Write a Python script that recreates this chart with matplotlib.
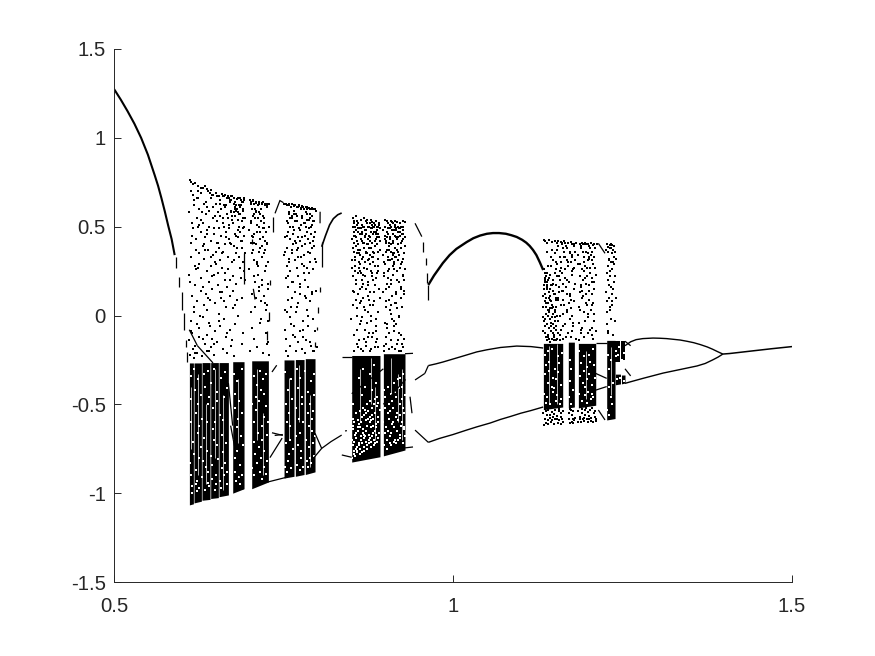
import matplotlib
matplotlib.use('Agg')
import matplotlib.pyplot as plt

plt.rcParams['font.family'] = ['Liberation Sans', 'DejaVu Sans']

# %% continuous branches
main_x = [0.5, 0.51, 0.52, 0.53, 0.54, 0.55, 0.56, 0.565, 0.57, 0.575, 0.58, 0.585, 0.5895]
main_y = [1.275, 1.215, 1.15, 1.08, 1.0, 0.905, 0.79, 0.73, 0.66, 0.585, 0.505, 0.43, 0.34]
hump_x = [0.9636, 0.972, 0.985, 0.995, 1.005, 1.02, 1.03, 1.04, 1.05, 1.059, 1.068, 1.078, 1.086,
          1.094, 1.102, 1.108, 1.113, 1.118, 1.123, 1.128, 1.133]
hump_y = [0.172, 0.225, 0.295, 0.34, 0.375, 0.413, 0.435, 0.45, 0.46, 0.464, 0.464, 0.46, 0.452,
          0.442, 0.426, 0.41, 0.392, 0.369, 0.34, 0.3, 0.256]
top_mid_x = [0.9636, 0.975, 0.985, 1.0, 1.015, 1.035, 1.05, 1.07, 1.094, 1.115, 1.133]
top_mid_y = [-0.282, -0.272, -0.262, -0.245, -0.228, -0.205, -0.193, -0.18, -0.172, -0.175, -0.183]
low_mid_x = [0.9636, 0.98, 1.0, 1.02, 1.035, 1.055, 1.07, 1.085, 1.1, 1.115, 1.133]
low_mid_y = [-0.714, -0.692, -0.67, -0.645, -0.627, -0.605, -0.585, -0.568, -0.55, -0.535, -0.515]
fork_up_x = [1.2537, 1.262, 1.27, 1.28, 1.295, 1.305, 1.315, 1.325, 1.335, 1.345, 1.355, 1.365,
             1.375, 1.383, 1.39, 1.398]
fork_up_y = [-0.17, -0.148, -0.136, -0.13, -0.127, -0.128, -0.13, -0.134, -0.138, -0.145, -0.153,
             -0.164, -0.177, -0.19, -0.203, -0.217]
fork_low_x = [1.2537, 1.261, 1.28, 1.3, 1.31, 1.335, 1.36, 1.372, 1.383, 1.391, 1.398]
fork_low_y = [-0.382, -0.374, -0.354, -0.334, -0.324, -0.304, -0.284, -0.27, -0.25, -0.234, -0.217]
tail_x = [1.398, 1.408, 1.44, 1.47, 1.5]
tail_y = [-0.217, -0.214, -0.2, -0.187, -0.175]
arc_x = [0.8063, 0.812, 0.818, 0.8235, 0.83, 0.8358]
arc_y = [0.387, 0.45, 0.51, 0.545, 0.567, 0.577]
bridge_x = [0.794, 0.8063, 0.82, 0.8358]
bridge_y = [-0.804, -0.748, -0.71, -0.673]

# short pieces between and inside the bands
piece_x0 = [0.5915, 0.596, 0.5999, 0.6033, 0.6062, 0.6082,
            0.611, 0.623, 0.735, 0.7375, 0.745, 0.733, 0.733, 0.737, 0.73, 0.727,
            0.804, 0.8063, 0.8039, 0.8015, 0.799, 0.7965, 0.7965,
            0.8408, 0.836, 0.836, 0.9292, 0.9292,
            0.944, 0.956, 0.9597, 0.9612, 0.9636,
            0.9366, 0.944, 0.9585, 0.944,
            1.2144, 1.2105, 1.2105, 1.2105, 1.2144,
            0.6918, 0.704, 0.7295, 0.7285, 0.7255, 0.7055, 0.6687, 0.672,
            1.2537, 1.2537, 0.8506, 0.8973]
piece_x1 = [0.5915, 0.596, 0.5999, 0.6033, 0.6062, 0.6082,
            0.623, 0.646, 0.735, 0.745, 0.75, 0.74, 0.749, 0.749, 0.748, 0.755,
            0.8039, 0.8063, 0.8039, 0.8015, 0.799, 0.7965, 0.8063,
            0.8435, 0.8506, 0.8506, 0.941, 0.941,
            0.954, 0.956, 0.9597, 0.9612, 0.9636,
            0.9395, 0.9585, 0.9636, 0.9636,
            1.2242, 1.2267, 1.2267, 1.2267, 1.2242,
            0.6918, 0.704, 0.7295, 0.7285, 0.7255, 0.708, 0.675, 0.69,
            1.262, 1.262, 0.8973, 0.93]
piece_y0 = [0.331, 0.219, 0.134, 0.012, -0.138, -0.204,
            -0.08, -0.17, 0.556, 0.575, 0.646, -0.318, -0.66, -0.675, -0.8, -0.937,
            0.584, 0.416, 0.162, 0.05, -0.063, -0.147, -0.663,
            -0.65, -0.232, -0.785, -0.215, -0.745,
            0.519, 0.415, 0.322, 0.237, 0.172,
            -0.457, -0.363, -0.326, -0.645,
            0.406, -0.157, -0.326, -0.42, -0.532,
            0.35, 0.43, 0.2, 0.02, -0.09, 0.15, -0.38, -0.62,
            -0.145, -0.3, -0.44, -0.5]
piece_y1 = [0.265, 0.162, 0.031, -0.082, -0.175, -0.26,
            -0.17, -0.267, 0.47, 0.65, 0.635, -0.28, -0.675, -0.67, -0.69, -0.91,
            0.519, 0.275, 0.134, 0.012, -0.082, -0.175, -0.748,
            -0.648, -0.232, -0.798, -0.213, -0.74,
            0.444, 0.359, 0.284, 0.181, 0.087,
            -0.55, -0.326, -0.282, -0.714,
            0.35, -0.157, -0.354, -0.4, -0.588,
            0.18, 0.4, 0.17, -0.03, -0.14, 0.09, -0.62, -0.98,
            -0.17, -0.34, -0.3, -0.36]

# %% dark blocks of the chaotic bands
block_left = [0.6112, 0.618, 0.6298, 0.6426, 0.6549, 0.6751, 0.7031, 0.7508, 0.7675, 0.7822,
              0.8506, 0.8973,
              1.1333, 1.1701, 1.1849, 1.2267, 1.2395, 1.2485, 1.2395, 1.2485]
block_right = [0.6171, 0.6289, 0.6416, 0.6539, 0.6687, 0.6918, 0.7277, 0.7655, 0.7803, 0.7965,
               0.8923, 0.9292,
               1.1618, 1.179, 1.2105, 1.239, 1.247, 1.2537, 1.247, 1.2537]
block_top = [-0.267, -0.267, -0.265, -0.265, -0.265, -0.26, -0.255, -0.25, -0.248, -0.243,
             -0.225, -0.215,
             -0.157, -0.15, -0.157, -0.14, -0.145, -0.145, -0.33, -0.335]
block_low_left = [-1.066, -1.055, -1.04, -1.03, -1.02, -1.0, -0.975, -0.915, -0.905, -0.895,
                  -0.825, -0.79,
                  -0.53, -0.52, -0.52, -0.588, -0.26, -0.25, -0.39, -0.385]
block_low_right = [-1.06, -1.045, -1.035, -1.025, -1.01, -0.975, -0.937, -0.905, -0.895, -0.88,
                   -0.795, -0.757,
                   -0.515, -0.515, -0.505, -0.58, -0.26, -0.25, -0.385, -0.38]

# %% sparse columns above the dark blocks
sparse1_x = [0.612, 0.615, 0.618, 0.621, 0.624, 0.627, 0.63, 0.633, 0.636, 0.639, 0.642, 0.645,
             0.648, 0.651, 0.654, 0.657, 0.66, 0.663, 0.666, 0.669, 0.672, 0.675, 0.678, 0.681,
             0.684, 0.687, 0.69, 0.692, 0.701, 0.704, 0.707, 0.71, 0.713, 0.716, 0.719, 0.722,
             0.725, 0.727, 0.752, 0.755, 0.758, 0.761, 0.764, 0.767, 0.77, 0.773, 0.776, 0.779,
             0.782, 0.785, 0.788, 0.791, 0.794, 0.797]
sparse1_y = [[0.76, 0.41, 0.23, -0.03, -0.14, -0.22, 0.58],
             [0.75, 0.68, 0.33, 0.11, -0.09, -0.19, 0.52],
             [0.74, 0.62, 0.49, 0.17, 0.02, -0.24, 0.28],
             [0.745, 0.55, 0.43, 0.26, -0.05, -0.17, 0.66],
             [0.73, 0.66, 0.35, 0.08, -0.12, -0.21, 0.5],
             [0.72, 0.6, 0.47, 0.29, 0.14, -0.07, 0.54],
             [0.715, 0.69, 0.39, 0.21, -0.01, -0.23, 0.58],
             [0.73, 0.52, 0.44, 0.32, 0.06, -0.16, 0.63],
             [0.71, 0.64, 0.57, 0.25, 0.12, -0.11, 0.37],
             [0.7, 0.59, 0.37, 0.19, 0.03, -0.2, 0.48],
             [0.69, 0.66, 0.5, 0.28, -0.04, -0.18, 0.09],
             [0.705, 0.61, 0.42, 0.34, 0.15, -0.13, 0.55],
             [0.68, 0.56, 0.46, 0.23, 0.07, -0.22, 0.3],
             [0.69, 0.63, 0.53, 0.36, 0.17, -0.09, 0.41],
             [0.67, 0.58, 0.31, 0.24, 0.01, -0.15, 0.49],
             [0.685, 0.65, 0.45, 0.38, 0.1, -0.06, 0.56],
             [0.67, 0.6, 0.52, 0.27, 0.13, -0.19, 0.35],
             [0.68, 0.62, 0.4, 0.2, -0.02, -0.12, 0.5],
             [0.66, 0.57, 0.47, 0.33, 0.05, -0.21, 0.61],
             [0.675, 0.64, 0.55, 0.43, 0.16, -0.08, 0.26],
             [0.65, 0.59, 0.51, 0.3, 0.11, -0.17, 0.4],
             [0.67, 0.63, 0.54, 0.22, 0.04, -0.14, 0.58],
             [0.66, 0.6, 0.56, 0.39, 0.18, -0.23, 0.46],
             [0.655, 0.62, 0.48, 0.35, 0.09, -0.05, 0.54],
             [0.66, 0.58, 0.5, 0.44, 0.27, 0.0, 0.62],
             [0.65, 0.61, 0.53, 0.42, 0.21, -0.16, 0.57],
             [0.66, 0.64, 0.6, 0.5, 0.38, 0.25, 0.1],
             [0.65, 0.55, 0.45, 0.35, 0.3, 0.2, -0.1],
             [0.65, 0.63, 0.48, 0.41, 0.26, 0.02, -0.2],
             [0.64, 0.56, 0.52, 0.37, 0.12, -0.07, 0.44],
             [0.645, 0.6, 0.46, 0.31, 0.19, -0.13, 0.55],
             [0.635, 0.58, 0.51, 0.4, 0.23, 0.05, 0.29],
             [0.64, 0.62, 0.43, 0.28, 0.14, -0.18, 0.5],
             [0.63, 0.57, 0.53, 0.36, 0.08, -0.04, 0.47],
             [0.64, 0.6, 0.49, 0.33, 0.17, -0.21, 0.39],
             [0.63, 0.55, 0.42, 0.25, 0.11, -0.1, 0.52],
             [0.625, 0.61, 0.47, 0.3, 0.03, -0.16, 0.37],
             [0.62, 0.5, 0.4, 0.15, 0.06, -0.22, -0.03],
             [0.625, 0.44, 0.34, 0.21, 0.03, -0.08, -0.2],
             [0.63, 0.52, 0.38, 0.28, 0.09, -0.13, 0.47],
             [0.62, 0.57, 0.43, 0.16, -0.01, -0.23, 0.32],
             [0.63, 0.5, 0.35, 0.25, 0.05, -0.17, 0.56],
             [0.615, 0.55, 0.46, 0.19, -0.06, -0.11, 0.4],
             [0.62, 0.59, 0.41, 0.31, 0.13, -0.2, 0.48],
             [0.61, 0.53, 0.37, 0.22, 0.02, -0.15, 0.57],
             [0.62, 0.48, 0.33, 0.12, 0.07, -0.09, 0.44],
             [0.605, 0.56, 0.42, 0.29, 0.18, -0.19, 0.51],
             [0.615, 0.52, 0.39, 0.24, -0.03, -0.12, 0.34],
             [0.6, 0.58, 0.45, 0.2, 0.1, -0.21, 0.5],
             [0.61, 0.54, 0.36, 0.27, 0.0, -0.14, 0.43],
             [0.6, 0.49, 0.41, 0.16, 0.08, -0.06, 0.57],
             [0.605, 0.55, 0.38, 0.3, 0.13, -0.17, 0.46],
             [0.6, 0.51, 0.44, 0.26, -0.02, -0.2, 0.53],
             [0.59, 0.47, 0.32, 0.14, -0.09, -0.18, 0.39]]

# second pass over the first band, denser toward the top and the right
extra1_x = [0.6135, 0.6195, 0.6255, 0.6315, 0.6375, 0.6435, 0.6495, 0.6555, 0.6615, 0.6645,
            0.6705, 0.6735, 0.6765, 0.6795, 0.6825, 0.6855, 0.6885, 0.6905, 0.7025, 0.7055,
            0.7085, 0.7115, 0.7145, 0.7175, 0.7205, 0.7235, 0.7265, 0.7535, 0.7565, 0.7595,
            0.7625, 0.7655, 0.7685, 0.7715, 0.7745, 0.7775, 0.7805, 0.7835, 0.7865, 0.7895,
            0.7925, 0.7955]
extra1_y = [[0.7, 0.45, 0.19, -0.1], [0.65, 0.37, 0.05, -0.21], [0.7, 0.51, 0.27, 0.0],
            [0.72, 0.4, 0.16, -0.13], [0.61, 0.46, 0.1, -0.2], [0.68, 0.33, 0.22, -0.06],
            [0.67, 0.49, 0.29, -0.16], [0.63, 0.41, 0.13, -0.03], [0.67, 0.55, 0.36, 0.08],
            [0.62, 0.44, 0.24, -0.1], [0.66, 0.58, 0.49, 0.2], [0.65, 0.56, 0.41, 0.14],
            [0.67, 0.61, 0.52, 0.31], [0.64, 0.59, 0.45, 0.06], [0.66, 0.6, 0.5, 0.38],
            [0.65, 0.57, 0.47, 0.33], [0.64, 0.62, 0.55, 0.42], [0.66, 0.59, 0.49, 0.3],
            [0.64, 0.6, 0.53, 0.35], [0.65, 0.57, 0.45, 0.22], [0.63, 0.59, 0.41, 0.1],
            [0.64, 0.55, 0.47, 0.3], [0.63, 0.58, 0.38, 0.16], [0.635, 0.53, 0.44, -0.02],
            [0.62, 0.56, 0.35, 0.2], [0.63, 0.49, 0.28, 0.07], [0.625, 0.41, 0.18, -0.15],
            [0.63, 0.53, 0.36, 0.02], [0.62, 0.58, 0.45, 0.22], [0.63, 0.55, 0.3, -0.05],
            [0.61, 0.5, 0.37, 0.1], [0.62, 0.57, 0.42, 0.19], [0.61, 0.53, 0.27, -0.12],
            [0.615, 0.56, 0.38, 0.05], [0.6, 0.49, 0.33, 0.16], [0.61, 0.55, 0.44, -0.08],
            [0.6, 0.52, 0.28, 0.11], [0.61, 0.57, 0.4, 0.03], [0.6, 0.54, 0.47, 0.24],
            [0.605, 0.5, 0.35, -0.15], [0.6, 0.56, 0.42, 0.12], [0.6, 0.53, 0.3, -0.2]]

sparse2_x = [0.852, 0.855, 0.858, 0.861, 0.864, 0.867, 0.87, 0.873, 0.876, 0.879, 0.882, 0.885,
             0.888, 0.891, 0.898, 0.901, 0.904, 0.907, 0.91, 0.913, 0.916, 0.919, 0.922, 0.925,
             0.928]
sparse2_y = [[0.55, 0.5, 0.43, 0.36, 0.27, 0.14, -0.02, 0.47, 0.31],
             [0.53, 0.48, 0.41, 0.33, 0.22, 0.09, -0.11, 0.45, 0.28],
             [0.56, 0.51, 0.44, 0.37, 0.18, 0.04, -0.16, 0.39, 0.24],
             [0.52, 0.46, 0.4, 0.3, 0.25, 0.12, -0.05, 0.49, 0.35],
             [0.54, 0.49, 0.42, 0.34, 0.2, 0.07, -0.19, 0.29, 0.16],
             [0.55, 0.47, 0.38, 0.32, 0.23, -0.01, -0.13, 0.5, 0.1],
             [0.53, 0.5, 0.44, 0.27, 0.15, 0.03, -0.08, 0.36, 0.41],
             [0.54, 0.48, 0.43, 0.35, 0.26, 0.11, -0.17, 0.31, 0.46],
             [0.52, 0.5, 0.45, 0.29, 0.19, 0.06, -0.12, 0.38, 0.4],
             [0.535, 0.49, 0.42, 0.33, 0.13, -0.03, -0.2, 0.24, 0.47],
             [0.525, 0.47, 0.41, 0.36, 0.22, 0.08, -0.1, 0.3, 0.5],
             [0.52, 0.51, 0.5, 0.43, 0.28, 0.17, -0.06, 0.35, 0.46],
             [0.53, 0.5, 0.48, 0.4, 0.32, 0.21, 0.02, -0.15, 0.44],
             [0.52, 0.51, 0.49, 0.46, 0.37, 0.25, 0.1, -0.18, 0.42],
             [0.535, 0.48, 0.43, 0.34, 0.24, 0.13, -0.04, 0.3, -0.17],
             [0.53, 0.5, 0.41, 0.29, 0.18, 0.05, -0.12, 0.37, 0.45],
             [0.52, 0.47, 0.39, 0.33, 0.21, 0.09, -0.07, 0.26, 0.44],
             [0.53, 0.49, 0.44, 0.36, 0.16, 0.01, -0.19, 0.31, 0.41],
             [0.525, 0.46, 0.4, 0.28, 0.2, -0.02, -0.14, 0.34, 0.48],
             [0.52, 0.5, 0.42, 0.35, 0.23, 0.07, -0.09, 0.29, 0.45],
             [0.53, 0.48, 0.38, 0.25, 0.12, -0.05, -0.16, 0.33, 0.43],
             [0.525, 0.49, 0.44, 0.31, 0.19, 0.04, -0.2, 0.37, 0.47],
             [0.52, 0.47, 0.41, 0.27, 0.15, -0.01, -0.11, 0.34, 0.5],
             [0.53, 0.5, 0.43, 0.38, 0.22, 0.1, -0.18, 0.3, 0.46],
             [0.525, 0.48, 0.39, 0.32, 0.26, 0.14, -0.13, 0.44, 0.2]]

extra2_x = [0.8535, 0.8565, 0.8595, 0.8625, 0.8655, 0.8685, 0.8715, 0.8745, 0.8775, 0.8805,
            0.8835, 0.8865, 0.8895, 0.8995, 0.9025, 0.9055, 0.9085, 0.9115, 0.9145, 0.9175,
            0.9205, 0.9235, 0.9265]
extra2_y = [[0.52, 0.45, 0.38, 0.25, 0.06, -0.2], [0.5, 0.42, 0.31, 0.2, 0.13, -0.08],
            [0.53, 0.47, 0.35, 0.27, 0.0, -0.18], [0.49, 0.43, 0.37, 0.15, 0.08, -0.14],
            [0.51, 0.46, 0.33, 0.24, 0.1, -0.03], [0.48, 0.41, 0.3, 0.18, 0.05, -0.2],
            [0.52, 0.45, 0.35, 0.22, -0.04, -0.15], [0.5, 0.4, 0.32, 0.17, 0.02, -0.1],
            [0.49, 0.44, 0.34, 0.25, 0.09, -0.19], [0.51, 0.46, 0.38, 0.2, 0.0, -0.12],
            [0.5, 0.42, 0.33, 0.13, 0.06, -0.18], [0.51, 0.47, 0.39, 0.24, -0.02, -0.09],
            [0.5, 0.44, 0.36, 0.28, 0.15, -0.13], [0.5, 0.45, 0.36, 0.22, 0.08, -0.2],
            [0.49, 0.42, 0.31, 0.15, -0.05, -0.16], [0.51, 0.46, 0.37, 0.25, 0.03, -0.1],
            [0.5, 0.43, 0.32, 0.18, 0.06, -0.18], [0.48, 0.41, 0.35, 0.26, 0.11, -0.06],
            [0.51, 0.44, 0.3, 0.13, -0.03, -0.19], [0.49, 0.4, 0.33, 0.2, 0.07, -0.14],
            [0.5, 0.45, 0.36, 0.27, 0.0, -0.1], [0.49, 0.42, 0.29, 0.16, 0.05, -0.2],
            [0.5, 0.46, 0.35, 0.23, 0.12, -0.16]]

sparse3_x = [1.134, 1.137, 1.14, 1.143, 1.146, 1.149, 1.152, 1.155, 1.158, 1.161, 1.164, 1.167,
             1.171, 1.174, 1.177, 1.18, 1.186, 1.189, 1.192, 1.195, 1.198, 1.201, 1.204, 1.207,
             1.21, 1.227, 1.23, 1.233, 1.236, 1.239]
sparse3_y = [[0.425, 0.21, 0.11, -0.02, -0.09, 0.17, 0.05],
             [0.42, 0.36, 0.19, 0.07, -0.06, 0.24, 0.01],
             [0.41, 0.28, 0.15, 0.1, -0.12, 0.2, 0.03],
             [0.425, 0.33, 0.23, 0.04, -0.04, 0.13, 0.17],
             [0.415, 0.37, 0.18, 0.08, -0.1, 0.28, -0.01],
             [0.42, 0.31, 0.12, 0.05, -0.07, 0.2, 0.24],
             [0.41, 0.35, 0.26, 0.02, -0.13, 0.1, 0.17],
             [0.42, 0.29, 0.16, 0.09, -0.03, 0.22, 0.37],
             [0.415, 0.33, 0.2, 0.06, -0.11, 0.27, 0.13],
             [0.41, 0.38, 0.24, 0.01, -0.08, 0.18, 0.3],
             [0.42, 0.26, 0.14, -0.05, 0.09, 0.33, 0.36],
             [0.41, 0.31, 0.21, 0.03, -0.12, 0.16, 0.38],
             [0.41, 0.35, 0.19, 0.07, -0.02, 0.28, 0.12],
             [0.415, 0.3, 0.23, 0.11, -0.09, 0.36, 0.04],
             [0.405, 0.33, 0.15, 0.0, -0.06, 0.25, 0.39],
             [0.41, 0.27, 0.18, 0.08, -0.13, 0.31, 0.36],
             [0.405, 0.34, 0.22, 0.05, -0.04, 0.13, 0.29],
             [0.41, 0.38, 0.16, 0.1, -0.1, 0.26, 0.03],
             [0.4, 0.3, 0.2, 0.02, -0.07, 0.33, 0.14],
             [0.41, 0.36, 0.25, 0.07, -0.12, 0.18, 0.28],
             [0.405, 0.31, 0.12, -0.01, 0.06, 0.22, 0.35],
             [0.4, 0.27, 0.17, 0.09, -0.08, 0.32, 0.38],
             [0.41, 0.34, 0.21, 0.03, -0.11, 0.24, 0.12],
             [0.4, 0.29, 0.15, 0.06, -0.03, 0.36, 0.19],
             [0.405, 0.33, 0.23, 0.01, -0.09, 0.27, 0.38],
             [0.4, 0.37, 0.2, 0.08, -0.05, 0.28, 0.13],
             [0.395, 0.31, 0.17, 0.03, -0.1, 0.25, 0.36],
             [0.4, 0.35, 0.22, 0.12, 0.05, 0.3, 0.38],
             [0.395, 0.33, 0.26, 0.15, 0.08, 0.19, 0.37],
             [0.39, 0.36, 0.29, 0.1, -0.03, 0.22, 0.32]]

# the darker streak at the left of the third band, then a thin top edge
extra3_x = [1.1345, 1.1365, 1.1385, 1.1405, 1.1425, 1.1445, 1.1465, 1.1485, 1.1505, 1.1525,
            1.1565, 1.1625, 1.1685, 1.1755, 1.1875, 1.1935, 1.1995, 1.2055, 1.2285, 1.2345]
extra3_y = [[0.26, 0.2, 0.15, 0.08, -0.01, -0.1], [0.24, 0.17, 0.12, 0.05, -0.03, -0.12],
            [0.22, 0.16, 0.1, 0.03, -0.05, -0.14], [0.19, 0.13, 0.07, 0.0, -0.07, -0.11],
            [0.21, 0.15, 0.09, 0.02, -0.04, -0.13], [0.17, 0.11, 0.04, -0.02, -0.09, -0.15],
            [0.14, 0.08, 0.01, -0.06, -0.1, -0.13], [0.12, 0.06, -0.01, -0.05, -0.12, -0.14],
            [0.09, 0.03, -0.03, -0.08, -0.11, 0.3], [0.05, 0.0, -0.06, -0.1, -0.14, 0.22],
            [0.39, 0.25, 0.1, 0.0, -0.1, -0.14], [0.4, 0.33, 0.14, 0.06, -0.06, -0.13],
            [0.39, 0.3, 0.2, 0.02, -0.1, 0.12], [0.4, 0.34, 0.26, 0.09, -0.04, -0.12],
            [0.39, 0.29, 0.17, 0.05, -0.08, -0.14], [0.4, 0.36, 0.21, 0.11, -0.03, -0.12],
            [0.39, 0.27, 0.14, 0.01, -0.1, 0.33], [0.395, 0.31, 0.19, 0.07, -0.07, -0.13],
            [0.385, 0.32, 0.24, 0.1, 0.02, -0.09], [0.38, 0.3, 0.16, 0.06, -0.02, -0.11]]

# light part under the third band
under3_x = [1.134, 1.138, 1.142, 1.146, 1.15, 1.154, 1.158, 1.161, 1.171, 1.175, 1.178,
            1.186, 1.19, 1.194, 1.198, 1.202, 1.206, 1.21]
under3_y = [[-0.615, -0.58, -0.55, -0.525],
            [-0.605, -0.59, -0.54, -0.56],
            [-0.61, -0.575, -0.53, -0.56],
            [-0.6, -0.57, -0.545, -0.59],
            [-0.61, -0.585, -0.53, -0.555],
            [-0.605, -0.565, -0.54, -0.58],
            [-0.61, -0.59, -0.55, -0.525],
            [-0.6, -0.57, -0.535, -0.585],
            [-0.605, -0.585, -0.55, -0.525],
            [-0.6, -0.56, -0.53, -0.58],
            [-0.605, -0.575, -0.54, -0.59],
            [-0.6, -0.57, -0.535, -0.585],
            [-0.6, -0.58, -0.55, -0.525],
            [-0.595, -0.56, -0.53, -0.575],
            [-0.6, -0.58, -0.545, -0.52],
            [-0.595, -0.565, -0.53, -0.585],
            [-0.6, -0.575, -0.55, -0.52],
            [-0.595, -0.57, -0.54, -0.58]]

# %% white specks inside the dark blocks
speck1_x = [0.613, 0.615, 0.62, 0.622, 0.624, 0.627, 0.631, 0.634, 0.637, 0.639, 0.644, 0.647,
            0.65, 0.652, 0.657, 0.66, 0.663, 0.666, 0.677, 0.68, 0.683, 0.686, 0.689, 0.705,
            0.708, 0.711, 0.714, 0.717, 0.72, 0.723, 0.726, 0.753, 0.756, 0.759, 0.762, 0.769,
            0.772, 0.775, 0.778, 0.784, 0.787, 0.79, 0.793, 0.795]
speck1_y = [[-0.34, -0.6, -0.83, -0.96], [-0.47, -0.71, -0.9, -1.0], [-0.3, -0.55, -0.78, -0.95],
            [-0.42, -0.66, -0.87, -0.99], [-0.36, -0.5, -0.8, -0.93], [-0.45, -0.62, -0.74, -0.97],
            [-0.33, -0.58, -0.82, -0.91], [-0.4, -0.69, -0.85, -0.98], [-0.5, -0.6, -0.76, -0.94],
            [-0.31, -0.46, -0.88, -0.96], [-0.38, -0.64, -0.79, -0.92], [-0.52, -0.7, -0.84, -0.98],
            [-0.3, -0.48, -0.6, -0.9], [-0.43, -0.73, -0.81, -0.95], [-0.35, -0.56, -0.86, -0.93],
            [-0.46, -0.67, -0.77, -0.97], [-0.32, -0.59, -0.83, -0.9], [-0.41, -0.72, -0.88, -0.95],
            [-0.33, -0.52, -0.7, -0.88], [-0.44, -0.63, -0.8, -0.93], [-0.37, -0.58, -0.76, -0.91],
            [-0.48, -0.68, -0.84, -0.95], [-0.3, -0.55, -0.73, -0.9], [-0.34, -0.5, -0.71, -0.86],
            [-0.46, -0.6, -0.78, -0.9], [-0.39, -0.53, -0.66, -0.83], [-0.31, -0.48, -0.74, -0.88],
            [-0.42, -0.62, -0.8, -0.92], [-0.36, -0.57, -0.7, -0.85], [-0.44, -0.51, -0.76, -0.89],
            [-0.33, -0.6, -0.67, -0.82], [-0.32, -0.5, -0.72, -0.85], [-0.42, -0.6, -0.78, -0.88],
            [-0.36, -0.55, -0.7, -0.82], [-0.47, -0.62, -0.75, -0.86], [-0.3, -0.52, -0.68, -0.84],
            [-0.41, -0.58, -0.73, -0.87], [-0.35, -0.5, -0.66, -0.8], [-0.46, -0.6, -0.76, -0.85],
            [-0.31, -0.55, -0.7, -0.82], [-0.43, -0.62, -0.74, -0.85], [-0.37, -0.5, -0.65, -0.8],
            [-0.45, -0.58, -0.72, -0.83], [-0.33, -0.54, -0.68, -0.79]]

speck2_x = [0.852, 0.854, 0.856, 0.858, 0.86, 0.862, 0.864, 0.866, 0.868, 0.87, 0.872, 0.874,
            0.876, 0.878, 0.88, 0.882, 0.884, 0.886, 0.888, 0.89, 0.899, 0.902, 0.905, 0.908,
            0.911, 0.914, 0.917, 0.92, 0.923, 0.926, 0.928]
speck2_y = [[-0.58, -0.64, -0.7, -0.76, -0.8], [-0.62, -0.67, -0.73, -0.78, -0.5],
            [-0.6, -0.66, -0.71, -0.75, -0.79], [-0.55, -0.63, -0.69, -0.74, -0.77],
            [-0.59, -0.65, -0.72, -0.76, -0.35], [-0.54, -0.61, -0.68, -0.73, -0.78],
            [-0.57, -0.63, -0.7, -0.75, -0.45], [-0.52, -0.6, -0.66, -0.72, -0.77],
            [-0.56, -0.64, -0.69, -0.74, -0.3], [-0.53, -0.59, -0.67, -0.71, -0.76],
            [-0.55, -0.62, -0.68, -0.73, -0.4], [-0.5, -0.58, -0.65, -0.7, -0.75],
            [-0.54, -0.6, -0.67, -0.72, -0.33], [-0.48, -0.57, -0.63, -0.69, -0.74],
            [-0.52, -0.59, -0.66, -0.71, -0.42], [-0.5, -0.56, -0.62, -0.68, -0.73],
            [-0.47, -0.58, -0.65, -0.7, -0.28], [-0.51, -0.55, -0.61, -0.67, -0.72],
            [-0.46, -0.57, -0.63, -0.69, -0.38], [-0.49, -0.53, -0.6, -0.66, -0.71],
            [-0.42, -0.52, -0.6, -0.66, -0.73], [-0.46, -0.55, -0.63, -0.7, -0.75],
            [-0.4, -0.5, -0.58, -0.65, -0.72], [-0.44, -0.54, -0.61, -0.68, -0.73],
            [-0.38, -0.48, -0.6, -0.66, -0.71], [-0.43, -0.52, -0.57, -0.63, -0.7],
            [-0.36, -0.46, -0.55, -0.65, -0.72], [-0.41, -0.5, -0.59, -0.67, -0.7],
            [-0.35, -0.47, -0.56, -0.62, -0.69], [-0.4, -0.52, -0.6, -0.64, -0.72],
            [-0.33, -0.45, -0.55, -0.63, -0.68]]

speck3_x = [1.135, 1.138, 1.141, 1.144, 1.147, 1.15, 1.153, 1.156, 1.159, 1.172, 1.175, 1.187,
            1.19, 1.193, 1.196, 1.199, 1.202, 1.205, 1.208, 1.229, 1.232, 1.235, 1.241, 1.244, 1.251]
speck3_y = [[-0.22, -0.33, -0.44], [-0.28, -0.38, -0.49], [-0.2, -0.31, -0.46], [-0.26, -0.4, -0.5],
            [-0.19, -0.35, -0.43], [-0.3, -0.41, -0.48], [-0.23, -0.36, -0.45], [-0.27, -0.32, -0.5],
            [-0.21, -0.39, -0.47], [-0.25, -0.37, -0.46], [-0.3, -0.42, -0.5], [-0.2, -0.34, -0.44],
            [-0.27, -0.38, -0.48], [-0.23, -0.31, -0.45], [-0.29, -0.4, -0.49], [-0.22, -0.36, -0.43],
            [-0.26, -0.33, -0.47], [-0.19, -0.39, -0.44], [-0.28, -0.35, -0.46], [-0.22, -0.4, -0.53],
            [-0.3, -0.46, -0.56], [-0.25, -0.38, -0.5], [-0.2, -0.23, -0.36], [-0.18, -0.22, -0.35],
            [-0.21, -0.25, -0.37]]

# thin white streaks running down the blocks
streak_x = [0.6135, 0.6235, 0.6355, 0.6485, 0.6605, 0.6825, 0.7105, 0.7205, 0.7575, 0.7735, 0.7885,
            0.8635, 0.8785, 0.8855, 0.9085, 0.9185, 0.9245,
            1.1415, 1.1535, 1.1955, 1.2325]
streak_top = [-0.4, -0.33, -0.5, -0.3, -0.45, -0.36, -0.3, -0.55, -0.35, -0.28, -0.45,
              -0.3, -0.24, -0.4, -0.24, -0.33, -0.3,
              -0.17, -0.16, -0.2, -0.18]
streak_low = [-0.75, -0.9, -0.95, -0.8, -0.98, -0.72, -0.7, -0.9, -0.7, -0.6, -0.85,
              -0.6, -0.5, -0.7, -0.45, -0.6, -0.7,
              -0.5, -0.5, -0.47, -0.45]

xtick_vals = [0.5, 1, 1.5]
xtick_labels = ['0.5', '1', '1.5']
ytick_vals = [-1.5, -1, -0.5, 0, 0.5, 1, 1.5]
ytick_labels = ['-1.5', '-1', '-0.5', '0', '0.5', '1', '1.5']

# read by eye: small sideways shifts so the columns do not read as a grid
row_shift = [0.0, 0.0011, -0.0009, 0.0017, -0.0013, 0.0006, -0.0018, 0.0014, -0.0004]


def column_points(cols_x, cols_y):
    xs, ys = [], []
    for j, (cx, row) in enumerate(zip(cols_x, cols_y)):
        for k, cy in enumerate(row):
            xs.append(cx + row_shift[(k + 2 * j) % len(row_shift)])
            ys.append(cy)
    return xs, ys


# %% figure
fig = plt.figure(figsize=(8.75, 6.56), dpi=100)
ax = fig.add_axes([114/875, 1 - 582/656, (792 - 114)/875, (582 - 49)/656])
ink = 'black'

for l, r, t, a, b in zip(block_left, block_right, block_top, block_low_left, block_low_right):
    ax.fill_between([l, r], [a, b], [t, t], color=ink, lw=0)

ax.vlines(streak_x, streak_low, streak_top, color='white', lw=0.5)

for cols_x, cols_y in [(speck1_x, speck1_y), (speck2_x, speck2_y), (speck3_x, speck3_y)]:
    xs, ys = column_points(cols_x, cols_y)
    ax.scatter(xs, ys, s=1.3, c='white', marker='s', linewidths=0)

for cols_x, cols_y in [(sparse1_x, sparse1_y), (extra1_x, extra1_y), (sparse2_x, sparse2_y),
                       (extra2_x, extra2_y), (sparse3_x, sparse3_y), (extra3_x, extra3_y),
                       (under3_x, under3_y)]:
    xs, ys = column_points(cols_x, cols_y)
    ax.scatter(xs, ys, s=1.1, c=ink, marker='s', linewidths=0)

for px, py, w in [(main_x, main_y, 1.5), (hump_x, hump_y, 1.7), (top_mid_x, top_mid_y, 1.0),
                  (low_mid_x, low_mid_y, 1.0), (fork_up_x, fork_up_y, 1.0),
                  (fork_low_x, fork_low_y, 1.0), (tail_x, tail_y, 1.1), (arc_x, arc_y, 1.2),
                  (bridge_x, bridge_y, 0.9)]:
    ax.plot(px, py, color=ink, lw=w, solid_capstyle='butt')

for x0, x1, y0, y1 in zip(piece_x0, piece_x1, piece_y0, piece_y1):
    ax.plot([x0, x1], [y0, y1], color=ink, lw=0.9, solid_capstyle='butt')

ax.set_xlim(0.5, 1.5)
ax.set_ylim(-1.5, 1.5)
ax.set_xticks(xtick_vals)
ax.set_xticklabels(xtick_labels)
ax.set_yticks(ytick_vals)
ax.set_yticklabels(ytick_labels)
ax.tick_params(direction='in', length=5, width=0.7, color='#262626', labelcolor='#262626',
               labelsize=14.6)
ax.tick_params(axis='x', pad=11)
ax.tick_params(axis='y', pad=6)
ax.spines['top'].set_visible(False)
ax.spines['right'].set_visible(False)
ax.spines['left'].set_linewidth(0.7)
ax.spines['bottom'].set_linewidth(0.7)
ax.spines['left'].set_color('#262626')
ax.spines['bottom'].set_color('#262626')

fig.savefig('out.png', dpi=100)
